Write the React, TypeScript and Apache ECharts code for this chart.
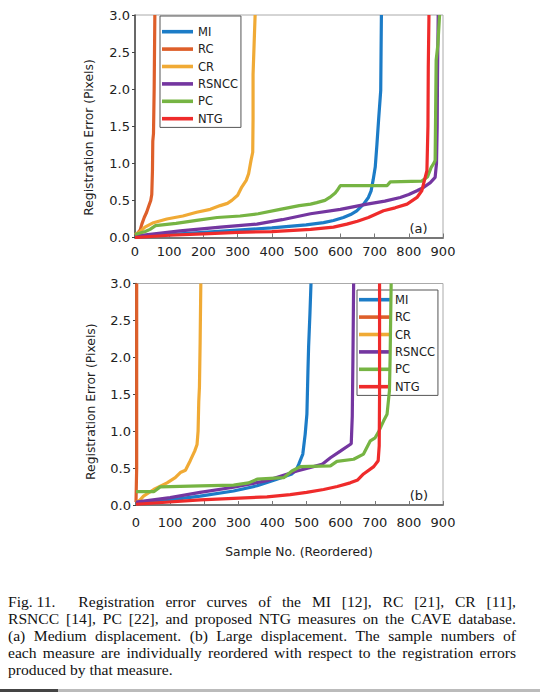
import React, { useEffect, useRef } from "react";
import * as echarts from "echarts";

// ---------- data ----------
const seriesNames = ["MI", "RC", "CR", "RSNCC", "PC", "NTG"];

// (a) Medium displacement
const miA = [[0,0.01],[100,0.04],[200,0.07],[300,0.1],[400,0.13],[500,0.17],[551,0.2],[580,0.23],[609,0.27],[630,0.31],[648,0.36],[668,0.45],[682,0.54],[690,0.63],[696,0.78],[702,0.95],[707,1.26],[712,1.6],[718,1.98],[719,2.5],[720,3.0]];
const rcA = [[0,0.03],[8,0.06],[15,0.1],[20,0.18],[27,0.27],[34,0.34],[40,0.42],[46,0.5],[49,0.58],[51,0.9],[52,1.3],[54,1.4],[56,2.0],[57,2.5],[58,3.0]];
const crA = [[0,0.04],[15,0.08],[29,0.14],[54,0.2],[93,0.25],[140,0.29],[180,0.34],[220,0.38],[249,0.43],[270,0.46],[283,0.5],[300,0.57],[312,0.68],[325,0.77],[332,0.86],[339,1.04],[344,1.15],[345,1.6],[345,2.2],[348,2.6],[351,3.0]];
const rsnccA = [[0,0.02],[132,0.09],[250,0.14],[356,0.18],[430,0.24],[513,0.32],[600,0.38],[678,0.45],[730,0.49],[775,0.54],[800,0.58],[824,0.63],[845,0.68],[863,0.74],[877,0.81],[881,1.0],[883,1.5],[884,2.2],[886,3.0]];
const pcA = [[0,0.04],[30,0.08],[44,0.11],[60,0.16],[120,0.19],[180,0.23],[240,0.27],[307,0.29],[360,0.32],[424,0.38],[480,0.43],[513,0.45],[531,0.47],[555,0.5],[569,0.54],[585,0.6],[590,0.63],[600,0.7],[737,0.7],[746,0.75],[838,0.76],[855,0.82],[866,0.95],[873,1.0],[877,1.04],[880,2.39],[885,2.6],[890,3.0]];
const ntgA = [[0,0.0],[100,0.03],[200,0.05],[300,0.07],[400,0.08],[513,0.11],[580,0.14],[619,0.18],[650,0.22],[682,0.27],[726,0.36],[760,0.4],[795,0.45],[824,0.54],[838,0.63],[848,0.81],[853,0.9],[856,1.5],[857,2.3],[859,3.0]];

// (b) Large displacement
const miB = [[0,0.03],[100,0.07],[188,0.12],[286,0.19],[355,0.26],[413,0.35],[457,0.42],[470,0.48],[477,0.55],[489,0.69],[496,0.96],[501,1.23],[504,1.8],[506,2.14],[510,2.6],[513,3.0]];
const rcB = [[0,0.04],[2,0.5],[2,3.0]];
const crB = [[0,0.04],[10,0.06],[22,0.12],[52,0.21],[91,0.3],[115,0.37],[130,0.44],[145,0.47],[159,0.6],[172,0.73],[179,0.82],[182,1.0],[184,1.4],[186,1.6],[188,2.2],[190,3.0]];
const rsnccB = [[0,0.04],[100,0.1],[188,0.17],[286,0.24],[384,0.33],[472,0.46],[545,0.55],[570,0.64],[599,0.73],[631,0.83],[634,1.2],[636,2.0],[638,3.0]];
const pcB = [[0,0.18],[52,0.18],[71,0.245],[188,0.26],[286,0.27],[330,0.3],[355,0.35],[433,0.37],[457,0.46],[482,0.52],[570,0.53],[589,0.59],[638,0.62],[667,0.69],[687,0.87],[701,0.91],[712,1.0],[726,1.14],[736,1.23],[743,1.55],[745,2.0],[748,3.0]];
const ntgB = [[0,0.01],[188,0.07],[384,0.11],[452,0.14],[500,0.17],[550,0.21],[590,0.25],[628,0.3],[650,0.34],[667,0.42],[697,0.52],[710,0.6],[713,0.8],[714,1.5],[714,3.0]];

const dataA = [miA, rcA, crA, rsnccA, pcA, ntgA];
const dataB = [miB, rcB, crB, rsnccB, pcB, ntgB];

const xRange = [0, 900];
const xStep = 100;
const yRange = [0, 3];
const yStep = 0.5;

const panelLabels = ["(a)", "(b)"];
const yTitle = "Registration Error (Pixels)";
const xTitle = "Sample No. (Reordered)";

const captionLead = "Fig. 11.";
const captionLines = [
  "Registration error curves of the MI [12], RC [21], CR [11],",
  "RSNCC [14], PC [22], and proposed NTG measures on the CAVE database.",
  "(a) Medium displacement. (b) Large displacement. The sample numbers of",
  "each measure are individually reordered with respect to the registration errors",
  "produced by that measure.",
];

// ---------- style ----------
const colors = ["#1c7cc7", "#de5f2a", "#f0aa35", "#7436a0", "#76b443", "#ef2b2b"];
const FONT = "DejaVu Sans";
const TXT = "#222";

export default function App() {
  const ref = useRef<HTMLDivElement>(null);

  useEffect(() => {
    if (!ref.current) return;
    const chart = echarts.init(ref.current, null, { renderer: "svg" });

    const grids = [
      { left: 135, top: 15, width: 308, height: 222.5 },
      { left: 136, top: 283.5, width: 307, height: 221.5 },
    ];

    const xAxis = grids.map((_, i) => ({
      type: "value",
      gridIndex: i,
      min: xRange[0],
      max: xRange[1],
      interval: xStep,
      splitLine: { show: false },
      axisLine: { show: true, lineStyle: { color: "#777", width: 2 } },
      axisTick: { show: true, inside: true, length: 4, lineStyle: { color: "#777", width: 1 } },
      axisLabel: { fontFamily: FONT, fontSize: 13, color: TXT, margin: i === 0 ? 7 : 11 },
    }));

    const yAxis = grids.map((_, i) => ({
      type: "value",
      gridIndex: i,
      min: yRange[0],
      max: yRange[1],
      interval: yStep,
      splitLine: { show: false },
      axisLine: { show: true, lineStyle: { color: "#444", width: 1.5 } },
      axisTick: { show: true, inside: false, length: 3, lineStyle: { color: "#444", width: 1 } },
      axisLabel: {
        fontFamily: FONT,
        fontSize: 13,
        color: TXT,
        margin: 5,
        formatter: (v: number) => v.toFixed(1),
      },
    }));

    const series: any[] = [];
    [dataA, dataB].forEach((set, gi) => {
      set.forEach((d, si) => {
        series.push({
          type: "line",
          name: seriesNames[si],
          xAxisIndex: gi,
          yAxisIndex: gi,
          data: d,
          symbol: "none",
          showSymbol: false,
          clip: true,
          lineStyle: { width: 3.2, color: colors[si] },
          itemStyle: { color: colors[si] },
          z: 2 + si,
        });
      });
    });

    const legendBase = {
      orient: "vertical",
      icon: "rect",
      itemWidth: 31,
      itemHeight: 3.6,
      itemGap: 0,
      borderColor: "#555",
      borderWidth: 1,
      backgroundColor: "#fff",
      textStyle: { fontFamily: FONT, fontSize: 11.5, color: TXT, lineHeight: 17.4 },
      data: seriesNames,
      selectedMode: false,
    };

    chart.setOption({
      animation: false,
      grid: grids.map((g) => ({ ...g, show: true, borderColor: "#aaa", borderWidth: 1, backgroundColor: "transparent" })),
      xAxis,
      yAxis,
      legend: [
        { ...legendBase, left: 160, top: 16, padding: [7, 3, 0, 2] },
        { ...legendBase, left: 357, top: 290, padding: [1, 3, 0, 2] },
      ],
      series,
      graphic: [
        { type: "text", x: 418.5, y: 228.5, style: { text: panelLabels[0], font: `13px "${FONT}"`, fill: TXT, textAlign: "center", textVerticalAlign: "middle" } },
        { type: "text", x: 419, y: 495, style: { text: panelLabels[1], font: `13px "${FONT}"`, fill: TXT, textAlign: "center", textVerticalAlign: "middle" } },
        { type: "text", x: 89, y: 137.5, rotation: Math.PI / 2, style: { text: yTitle, font: `12.3px "${FONT}"`, fill: TXT, textAlign: "center", textVerticalAlign: "middle" } },
        { type: "text", x: 91, y: 401.7, rotation: Math.PI / 2, style: { text: yTitle, font: `12.3px "${FONT}"`, fill: TXT, textAlign: "center", textVerticalAlign: "middle" } },
        { type: "text", x: 299, y: 551.5, style: { text: xTitle, font: `12.3px "${FONT}"`, fill: TXT, textAlign: "center", textVerticalAlign: "middle" } },
      ],
    });

    return () => chart.dispose();
  }, []);

  const justified: React.CSSProperties = {
    display: "flex",
    justifyContent: "space-between",
    whiteSpace: "nowrap",
    height: 17.2,
  };

  return (
    <div style={{ position: "absolute", left: 0, top: 0, width: 540, height: 695, background: "#fff", overflow: "hidden" }}>
      <div ref={ref} style={{ position: "absolute", left: 0, top: 0, width: 540, height: 580 }} />
      <div
        style={{
          position: "absolute",
          left: 8,
          top: 592.6,
          width: 508,
          fontFamily: '"Liberation Serif", "Times New Roman", serif',
          fontSize: 15.6,
          lineHeight: "17.2px",
          color: "#111",
        }}
      >
        {captionLines.map((ln, i) => {
          const last = i === captionLines.length - 1;
          return (
            <div key={i} style={last ? { whiteSpace: "nowrap", height: 17.2 } : justified}>
              {i === 0 && <span style={{ marginRight: 12 }}>{captionLead}</span>}
              {last ? ln : ln.split(" ").map((w, j) => <span key={j}>{w}</span>)}
            </div>
          );
        })}
      </div>
      <div style={{ position: "absolute", left: 0, top: 689, width: 58, height: 2.5, background: "#444" }} />
      <div style={{ position: "absolute", left: 58, top: 689, width: 482, height: 2.5, background: "#bbb" }} />
    </div>
  );
}
